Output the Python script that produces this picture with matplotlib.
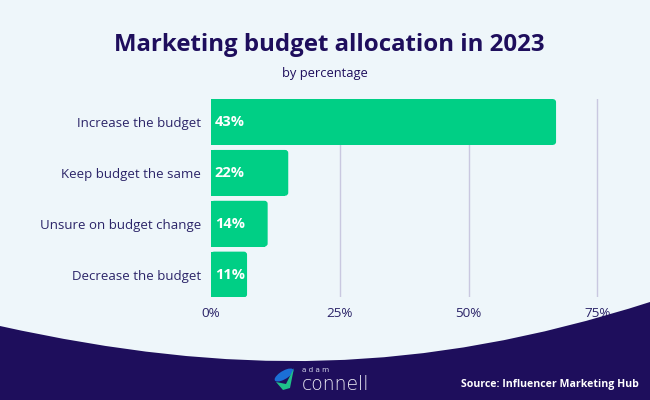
import matplotlib
matplotlib.use("Agg")
import matplotlib.pyplot as plt
import numpy as np
from matplotlib.patches import FancyBboxPatch, PathPatch, Polygon, Ellipse
from matplotlib.path import Path

plt.rcParams['font.family'] = ['Open Sans', 'DejaVu Sans']

# data
categories = ["Increase the budget", "Keep budget the same",
              "Unsure on budget change", "Decrease the budget"]
bar_lengths = [67, 15, 11, 7]          # drawn length of each bar (axis %)
value_labels = ["43%", "22%", "14%", "11%"]
ticks = [0, 25, 50, 75]
tick_labels = ["0%", "25%", "50%", "75%"]

BG = "#eef6fa"
NAVY = "#1e0e5c"
TEXT = "#2b2468"
GREEN = "#00cf85"
GRID = "#c9c8e0"

W, H = 650, 400
fig = plt.figure(figsize=(6.5, 4), dpi=100)
fig.patch.set_facecolor(BG)


def px(x, y):
    return (x / W, 1 - y / H)


# dark curved footer
verts = [px(0, 326), px(230, 376.6), px(420, 375.6), px(650, 302),
         px(650, 400), px(0, 400), px(0, 326)]
codes = [Path.MOVETO, Path.CURVE4, Path.CURVE4, Path.CURVE4,
         Path.LINETO, Path.LINETO, Path.CLOSEPOLY]
fig.patches.append(PathPatch(Path(verts, codes), transform=fig.transFigure,
                             facecolor=NAVY, edgecolor='none', zorder=0))

# titles
fig.text(*px(329, 45), "Marketing budget allocation in 2023", ha='center',
         va='center', fontsize=17.3, fontweight='bold', color=NAVY)
fig.text(*px(325, 74), "by percentage", ha='center', va='center',
         fontsize=9.3, color=NAVY)

# chart
ax = fig.add_axes([211 / W, 1 - 297.4 / H, 412 / W, 198.3 / H])
ax.set_facecolor('none')
ax.set_xlim(0, 80)
ax.set_ylim(3.45, -0.45)
y = np.arange(len(categories))
h = 0.9
r = 0.6
ax.barh(y, [v - r for v in bar_lengths], height=h, color=GREEN, zorder=3)
for yi, v in zip(y, bar_lengths):
    ax.add_patch(FancyBboxPatch((0, yi - h / 2), v, h,
                                boxstyle="round,pad=0,rounding_size=%s" % r,
                                mutation_aspect=0.1, facecolor=GREEN,
                                edgecolor='none', zorder=3))
for yi, lab in zip(y, value_labels):
    ax.text(0.75, yi, lab, va='center', ha='left', fontsize=10.5,
            fontweight='bold', color='white', zorder=4)

ax.set_yticks(y)
ax.set_yticklabels(categories, fontsize=9.5, color=TEXT)
ax.set_xticks(ticks)
ax.set_xticklabels(tick_labels, fontsize=9.7, color=TEXT)
ax.tick_params(axis='both', length=0)
ax.tick_params(axis='x', pad=7)
ax.tick_params(axis='y', pad=7)
ax.xaxis.grid(True, color=GRID, lw=1, zorder=1)
ax.set_axisbelow(True)
ax.xaxis.get_gridlines()[0].set_visible(False)
for s in ax.spines.values():
    s.set_visible(False)

# logo
fig.patches.append(Ellipse(px(284, 375), 11 / W, 16 / H, angle=-40,
                           transform=fig.transFigure, facecolor="#1b6fd6",
                           edgecolor='none', zorder=2))
fig.patches.append(Polygon([px(276, 382), px(283, 390), px(290, 388),
                            px(294, 368), px(286, 384)], closed=True,
                           transform=fig.transFigure, facecolor="#1fc18a",
                           edgecolor='none', zorder=3))
fig.text(*px(302, 370.5), "a d a m", ha='left', va='center', fontsize=5.2,
         color="#cfd0e6", family='DejaVu Sans')
fig.text(*px(302, 385), "connell", ha='left', va='center', fontsize=13.5,
         fontweight='light', color="#eeeef6", family='DejaVu Sans')

fig.text(*px(639, 385), "Source: Influencer Marketing Hub", ha='right',
         va='center', fontsize=7.6, fontweight='bold', color='white')

fig.savefig("out.png", dpi=100, facecolor=BG)
